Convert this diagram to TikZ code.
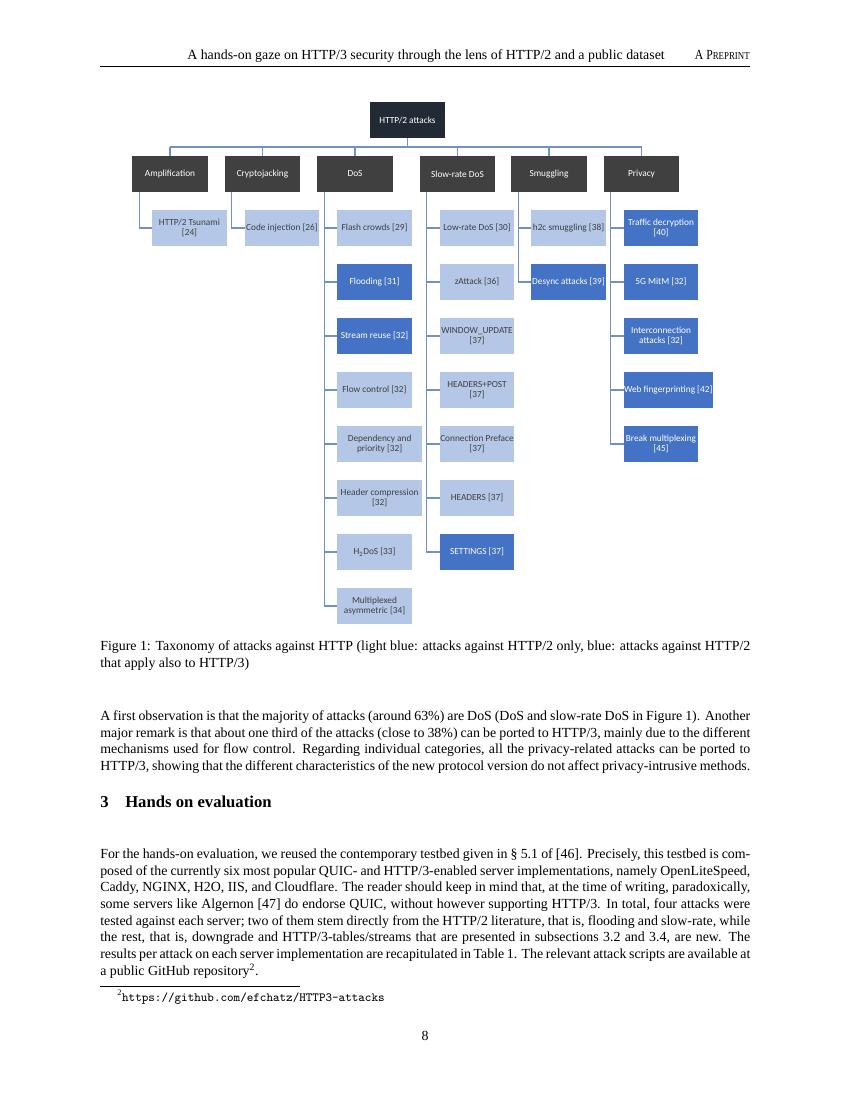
\documentclass[tikz,border=0pt]{standalone}
\usepackage{graphicx}
\usepackage{fontspec}
\setmainfont{Liberation Serif}
\newfontfamily\diagfont{Carlito}
\usetikzlibrary{calc}
\definecolor{rootc}{HTML}{222A35}
\definecolor{catc}{HTML}{404040}
\definecolor{lightc}{HTML}{B4C7E7}
\definecolor{bluec}{HTML}{4472C4}
\definecolor{linec}{HTML}{7090C8}
\definecolor{txtc}{HTML}{404040}
\begin{document}
\begin{tikzpicture}[x=0.72pt,y=-0.72pt,
  basebox/.style={inner sep=0pt, align=center, minimum height=26pt,
    font={\diagfont\fontsize{6.7}{7.2}\selectfont}},
  rootbox/.style={basebox, fill=rootc, text=white, minimum width=54pt},
  catbox/.style={basebox, fill=catc, text=white, minimum width=54.7pt},
  lbox/.style={basebox, fill=lightc, text=txtc, anchor=west, minimum width=53.6pt},
  bbox/.style={basebox, fill=bluec, text=white, anchor=west, minimum width=53.6pt},
  wide/.style={minimum width=61pt},
  wider/.style={minimum width=64pt},
  conn/.style={draw=linec, line width=0.75pt},
  bodytext/.style={anchor=north west, inner sep=0pt, text width=468pt, align=justify,
    font={\fontsize{10}{12}\selectfont}}
]
\useasboundingbox (0,0) rectangle (850,1100);
\fill[white] (0,0) rectangle (850,1100);

% header
\node[anchor=base west, inner sep=0pt, font={\fontsize{10}{12}\selectfont}] (head) at (187,60)
  {A hands-on gaze on HTTP/3 security through the lens of HTTP/2 and a public dataset};
\node[anchor=base east, inner sep=0pt, font={\fontsize{10}{12}\selectfont}] (prep) at (750,60)
  {\scalebox{0.84}[1]{A P{\fontsize{7.6}{9}\selectfont REPRINT}}};
\coordinate (hl) at (100,66);
\coordinate (hr) at (750,66);
\draw[line width=0.4pt] (hl) -- (hr);

% diagram
\node[rootbox] (root) at (407.5,120) {HTTP/2 attacks};
\coordinate (bus) at (0,147);

\node[catbox] (amp)  at (170,174) {Amplification};
\node[catbox] (cry)  at (262.5,174) {Cryptojacking};
\node[catbox] (dos)  at (355,174) {DoS};
\node[catbox] (slow) at (457.5,174) {Slow-rate DoS};
\node[catbox] (smu)  at (549,174) {Smuggling};
\node[catbox] (pri)  at (641.5,174) {Privacy};

\draw[conn] (root.south) -- (root.south |- bus);
\draw[conn] (amp.north |- bus) -- (pri.north |- bus);
\foreach \n in {amp,cry,dos,slow,smu,pri}
  \draw[conn] (\n.north) -- (\n.north |- bus);

% Amplification
\node[lbox] (a1) at (152,228) {HTTP/2 Tsunami\\{[24]}};
% Cryptojacking
\node[lbox] (c1) at (244.5,228) {Code injection [26]};
% DoS
\node[lbox] (d1) at (337,228) {Flash crowds [29]};
\node[bbox] (d2) at (337,282) {Flooding [31]};
\node[bbox] (d3) at (337,336) {Stream reuse [32]};
\node[lbox] (d4) at (337,390) {Flow control [32]};
\node[lbox,wide] (d5) at (337,444) {Dependency and\\priority [32]};
\node[lbox,wide] (d6) at (337,498) {Header compression\\{[32]}};
\node[lbox] (d7) at (337,552) {H\textsubscript{2}DoS [33]};
\node[lbox] (d8) at (337,606) {Multiplexed\\asymmetric [34]};
% Slow-rate DoS
\node[lbox] (s1) at (439.5,228) {Low-rate DoS [30]};
\node[lbox] (s2) at (439.5,282) {zAttack [36]};
\node[lbox] (s3) at (439.5,336) {WINDOW\_UPDATE\\{[37]}};
\node[lbox] (s4) at (439.5,390) {HEADERS+POST\\{[37]}};
\node[lbox] (s5) at (439.5,444) {Connection Preface\\{[37]}};
\node[lbox] (s6) at (439.5,498) {HEADERS [37]};
\node[bbox] (s7) at (439.5,552) {SETTINGS [37]};
% Smuggling
\node[lbox] (m1) at (531,228) {h2c smuggling [38]};
\node[bbox] (m2) at (531,282) {Desync attacks [39]};
% Privacy
\node[bbox] (p1) at (623.5,228) {Traffic decryption\\{[40]}};
\node[bbox] (p2) at (623.5,282) {5G MitM [32]};
\node[bbox] (p3) at (623.5,336) {Interconnection\\attacks [32]};
\node[bbox,wider] (p4) at (623.5,390) {Web fingerprinting [42]};
\node[bbox] (p5) at (623.5,444) {Break multiplexing\\{[45]}};

\draw[conn] ([xshift=5.4pt]amp.south west) |- (a1.west);
\draw[conn] ([xshift=5.4pt]cry.south west) |- (c1.west);
\foreach \c in {d1,d2,d3,d4,d5,d6,d7,d8}
  \draw[conn] ([xshift=5.4pt]dos.south west) |- (\c.west);
\foreach \c in {s1,s2,s3,s4,s5,s6,s7}
  \draw[conn] ([xshift=5.4pt]slow.south west) |- (\c.west);
\foreach \c in {m1,m2}
  \draw[conn] ([xshift=5.4pt]smu.south west) |- (\c.west);
\foreach \c in {p1,p2,p3,p4,p5}
  \draw[conn] ([xshift=5.4pt]pri.south west) |- (\c.west);

% caption
\node[bodytext] (cap) at (100,640.5)
  {Figure 1: Taxonomy of attacks against HTTP (light blue: attacks against HTTP/2 only, blue: attacks against HTTP/2\linebreak
   that apply also to HTTP/3)};

% paragraph 1
\node[bodytext] (p1text) at (100,710.5)
  {A first observation is that the majority of attacks (around 63\%) are DoS (DoS and slow-rate DoS in Figure 1). Another\linebreak
   major remark is that about one third of the attacks (close to 38\%) can be ported to HTTP/3, mainly due to the different\linebreak
   mechanisms used for flow control. Regarding individual categories, all the privacy-related attacks can be ported to\linebreak
   HTTP/3, showing that the different characteristics of the new protocol version do not affect privacy-intrusive methods.};

% section heading
\node[anchor=base west, inner sep=0pt, font={\fontsize{12}{14}\selectfont\bfseries}] (sec) at (100,807)
  {3\hspace{1em}Hands on evaluation};

% paragraph 2
\node[bodytext] (p2text) at (100,848.5)
  {For the hands-on evaluation, we reused the contemporary testbed given in \S~5.1 of [46]. Precisely, this testbed is com-\linebreak
   posed of the currently six most popular QUIC- and HTTP/3-enabled server implementations, namely OpenLiteSpeed,\linebreak
   Caddy, NGINX, H2O, IIS, and Cloudflare. The reader should keep in mind that, at the time of writing, paradoxically,\linebreak
   some servers like Algernon [47] do endorse QUIC, without however supporting HTTP/3. In total, four attacks were\linebreak
   tested against each server; two of them stem directly from the HTTP/2 literature, that is, flooding and slow-rate, while\linebreak
   the rest, that is, downgrade and HTTP/3-tables/streams that are presented in subsections 3.2 and 3.4, are new. The\linebreak
   results per attack on each server implementation are recapitulated in Table 1. The relevant attack scripts are available at\linebreak
   a public GitHub repository\textsuperscript{2}.};

% footnote
\coordinate (fl) at (100,986);
\coordinate (fr) at (300,986);
\draw[line width=0.4pt] (fl) -- (fr);
\node[anchor=base west, inner sep=0pt, font={\fontsize{9}{10.5}\selectfont}] (fn) at (117,1001)
  {\textsuperscript{2}\texttt{https://github.com/efchatz/HTTP3-attacks}};

% page number
\node[anchor=base, inner sep=0pt, font={\fontsize{10}{12}\selectfont}] (pg) at (425,1040) {8};
\end{tikzpicture}
\end{document}
